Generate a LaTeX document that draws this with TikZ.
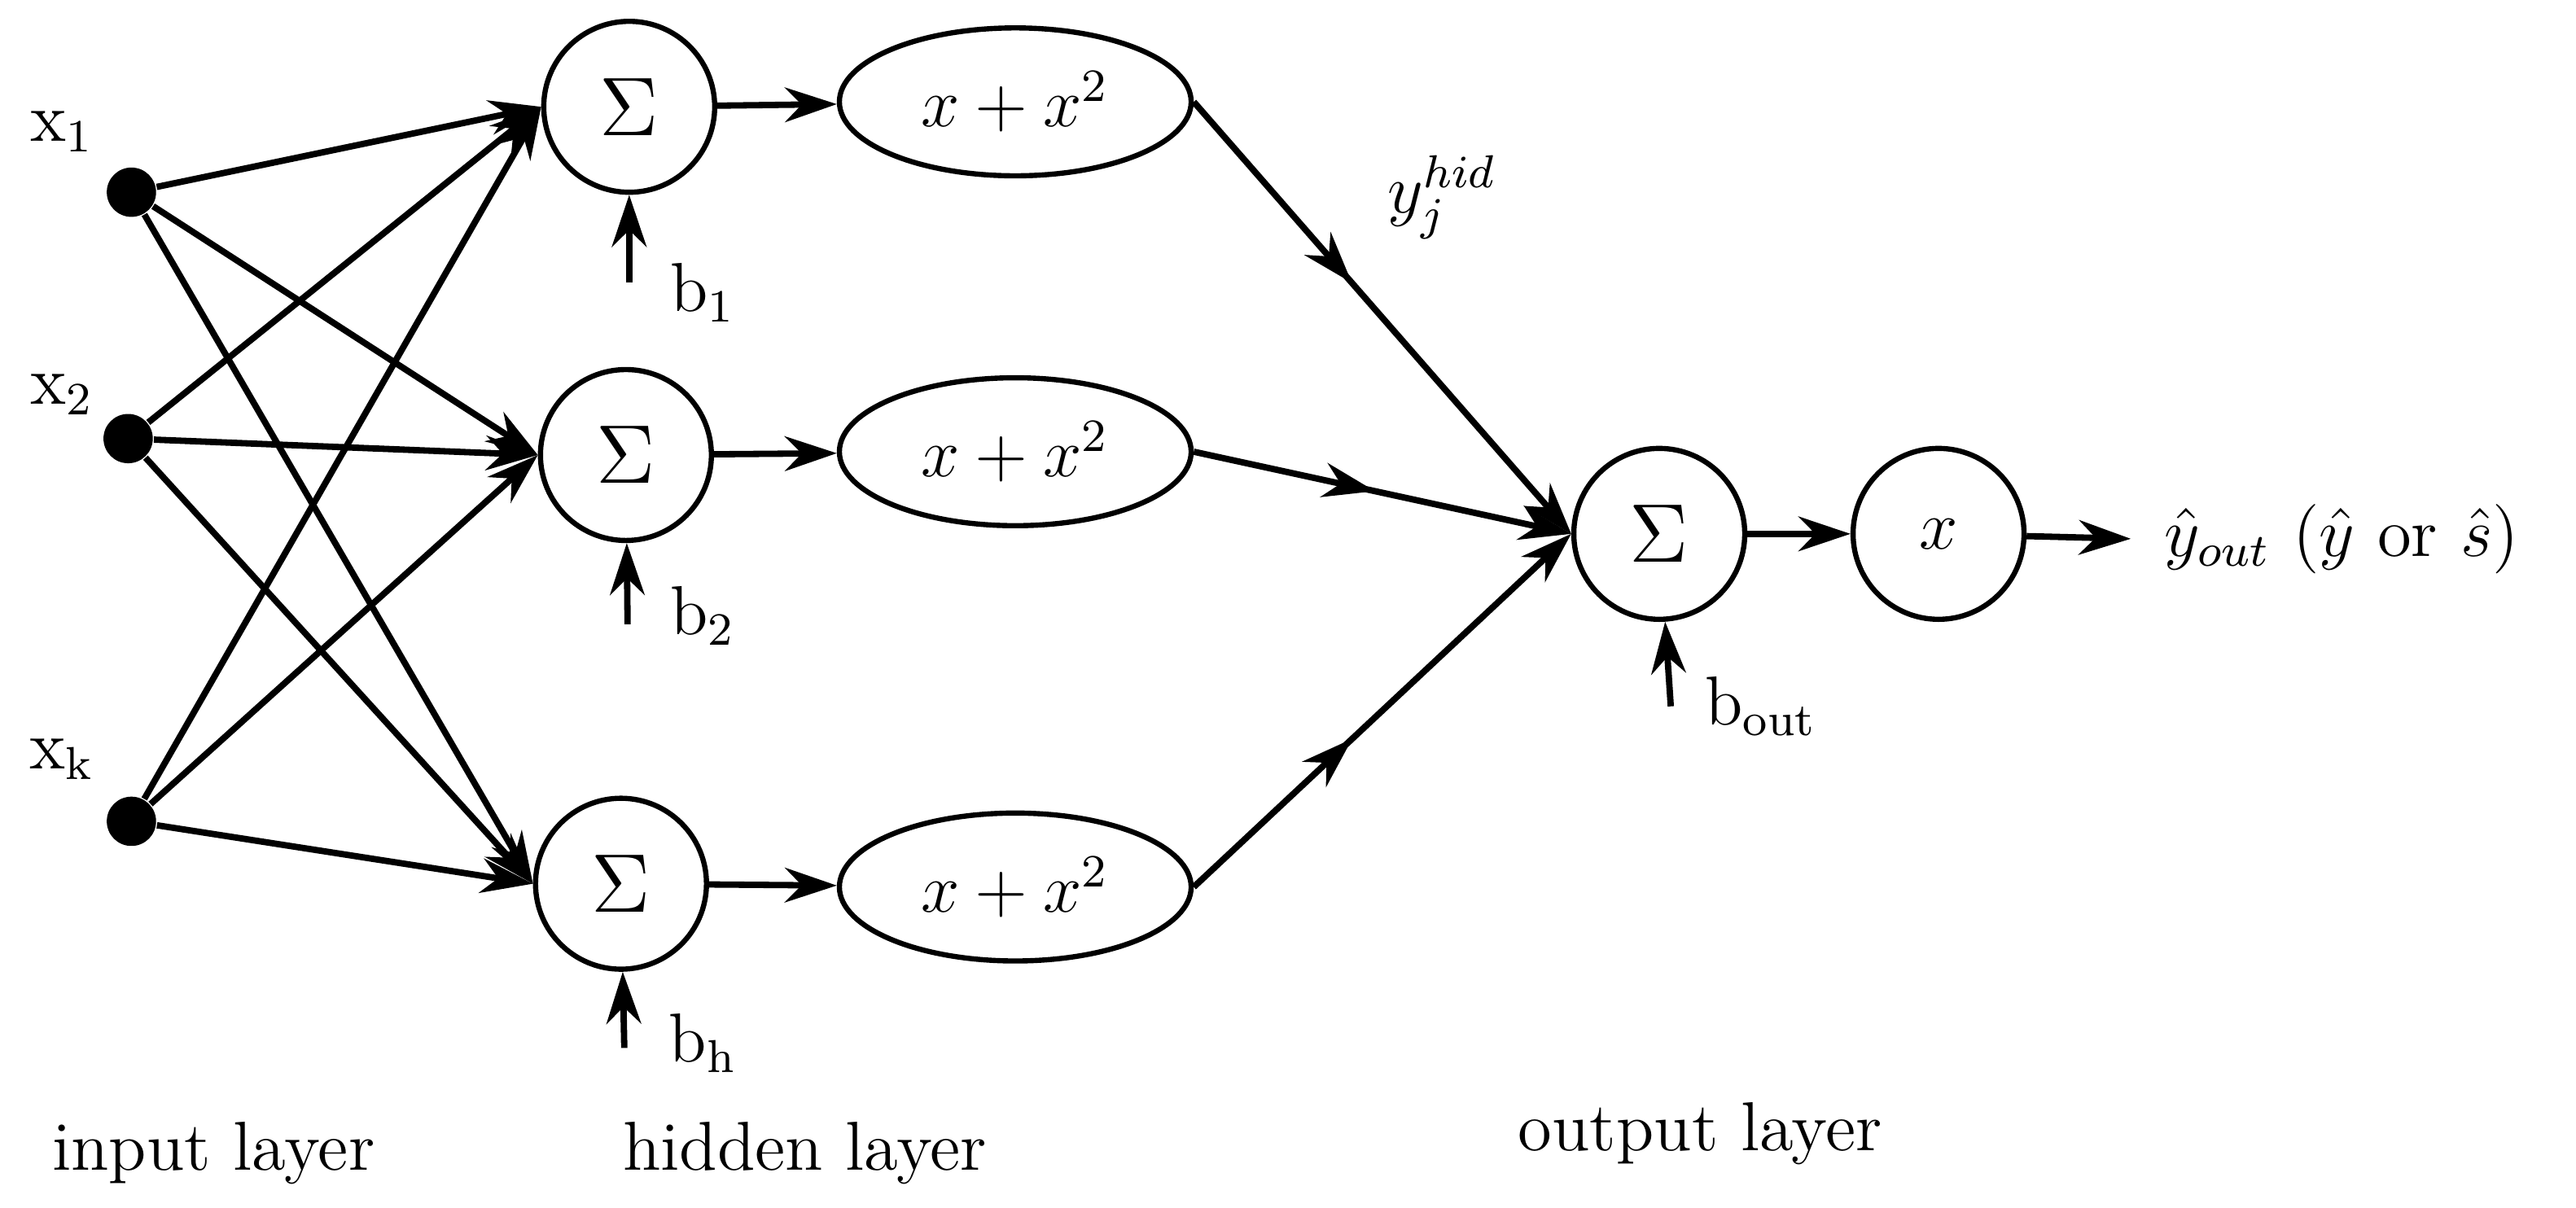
\documentclass[tikz,border=0pt]{standalone}
\usetikzlibrary{arrows.meta,decorations.markings,shapes.geometric}
\begin{document}
\begin{tikzpicture}[x=0.01cm,y=-0.01cm,
  arr/.style={-{Stealth[length=9pt,width=6pt]},line width=1.1pt},
  ln/.style={line width=1.1pt},
  sum/.style={circle,draw,line width=0.9pt,minimum size=1.04cm,inner sep=0pt,font=\Large},
  el/.style={ellipse,draw,line width=0.9pt,minimum width=2.14cm,minimum height=0.9cm,font=\large},
  dot/.style={circle,fill=black,minimum size=0.3cm,inner sep=0pt},
  mid/.style={postaction={decorate},decoration={markings,mark=at position #1 with {\arrow{Stealth[length=9pt,width=6pt]}}}},
  lab/.style={font=\large}]
\useasboundingbox (0,0) rectangle (1568,735);
\node[dot] (i1) at (80,117) {};
\node[dot] (i2) at (78,267) {};
\node[dot] (i3) at (80,500) {};
\node[lab] (lx1) at (38,80) {x$_1$};
\node[lab] (lx2) at (38,240) {x$_2$};
\node[lab] (lxk) at (38,462) {x$_\mathrm{k}$};
\node[sum] (h1) at (383,65) {$\Sigma$};
\node[sum] (h2) at (381,277) {$\Sigma$};
\node[sum] (h3) at (378,538) {$\Sigma$};
\node[el] (e1) at (618,62) {$x+x^2$};
\node[el] (e2) at (618,275) {$x+x^2$};
\node[el] (e3) at (618,540) {$x+x^2$};
\node[sum] (o) at (1010,325) {$\Sigma$};
\node[sum,font=\large] (f) at (1180,325) {$x$};
\coordinate (end) at (1297,328);
\node[lab,anchor=west] (yout) at (1305,328) {$\hat{y}_{out}$ ($\hat{y}$ or $\hat{s}$)};
\foreach \i in {i1,i2,i3}{\foreach \h in {h1,h2,h3}{\draw[arr] (\i) -- (\h.west);}}
\foreach \n in {1,2,3}{\draw[arr] (h\n) -- (e\n);}
\draw[arr,mid=0.42] (e1.east) -- (o.west);
\draw[arr,mid=0.48] (e2.east) -- (o.west);
\draw[arr,mid=0.42] (e3.east) -- (o.west);
\draw[arr] (o) -- (f);
\draw[arr] (f) -- (end);
\node[lab] (yh) at (878,120) {$y_j^{hid}$};
\coordinate (b1s) at (383,172); \draw[arr] (b1s) -- (h1);
\coordinate (b2s) at (382,380); \draw[arr] (b2s) -- (h2);
\coordinate (b3s) at (380,638); \draw[arr] (b3s) -- (h3);
\coordinate (b4s) at (1017,430); \draw[arr] (b4s) -- (o);
\node[lab] (b1) at (428,178) {b$_1$};
\node[lab] (b2) at (428,375) {b$_2$};
\node[lab] (bh) at (428,635) {b$_\mathrm{h}$};
\node[lab] (bo) at (1072,430) {b$_\mathrm{out}$};
\node[lab] (L1) at (130,702) {input layer};
\node[lab] (L2) at (490,702) {hidden layer};
\node[lab] (L3) at (1035,690) {output layer};
\end{tikzpicture}
\end{document}
